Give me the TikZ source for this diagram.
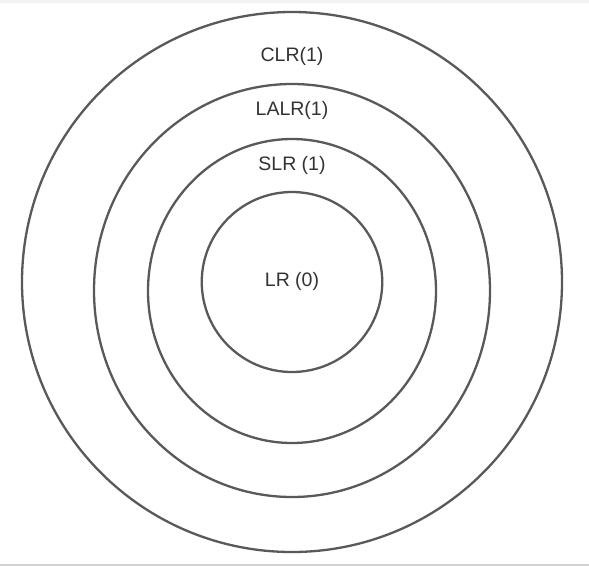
\documentclass[tikz,border=0pt]{standalone}
\usepackage{fontspec}
\setmainfont{Liberation Sans}
\usetikzlibrary{shapes.geometric}
\definecolor{ringcol}{HTML}{595959}
\definecolor{txtcol}{HTML}{333333}
\tikzset{
  ring/.style={draw=ringcol, line width=2.3pt, ellipse, inner sep=0pt, fill=none},
  lbl/.style={text=txtcol, font=\fontsize{19.5}{23}\selectfont, inner sep=0pt, anchor=center}
}
\begin{document}
\begin{tikzpicture}[x=1pt,y=-1pt]
\useasboundingbox (0,0) rectangle (589,566);
\fill[white] (0,0) rectangle (589,566);
\fill[black!5] (0,0) rectangle (589,2.5);
\fill[black!18] (0,563.5) rectangle (589,566);
\node[ring, minimum width=540pt, minimum height=540pt] (clr) at (292,282) {};
\node[ring, minimum width=396pt, minimum height=413pt] (lalr) at (292,290.5) {};
\node[ring, minimum width=288pt, minimum height=304pt] (slr) at (292,291) {};
\node[ring, minimum width=180.5pt, minimum height=180pt] (lr) at (292,282) {};
\node[lbl] (tclr) at (292,56.5) {CLR(1)};
\node[lbl] (tlalr) at (292,110.5) {LALR(1)};
\node[lbl] (tslr) at (292,165) {SLR (1)};
\node[lbl] (tlr) at (292,281.5) {LR (0)};
\end{tikzpicture}
\end{document}
